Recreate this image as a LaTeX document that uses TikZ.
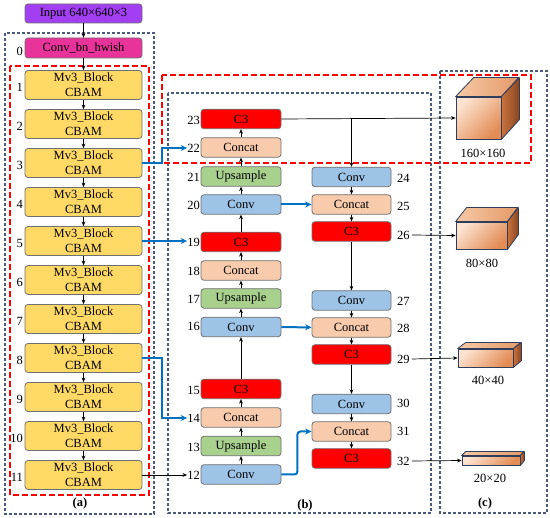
\documentclass[tikz,border=0pt]{standalone}
\usepackage{fontspec}
\setmainfont{Liberation Serif}
\usetikzlibrary{arrows.meta,calc}
\definecolor{yel}{HTML}{FFD966}
\definecolor{bord}{HTML}{6F6F6F}
\definecolor{c3red}{HTML}{FF0000}
\definecolor{catc}{HTML}{F8CBAD}
\definecolor{upc}{HTML}{A9D18E}
\definecolor{cnvc}{HTML}{9DC3E6}
\definecolor{inpc}{HTML}{A23FF2}
\definecolor{cbnc}{HTML}{E8349A}
\definecolor{bluearr}{HTML}{0070C0}
\definecolor{frameblue}{HTML}{4A5A7A}
\definecolor{cubeedge}{HTML}{2E3D5C}
\definecolor{cfl}{HTML}{FCE2CF}
\definecolor{cfd}{HTML}{E38C55}
\definecolor{ctl}{HTML}{F7C9A6}
\definecolor{ctd}{HTML}{E49A68}
\definecolor{csl}{HTML}{C9743F}
\definecolor{csd}{HTML}{8A4520}
\tikzset{
  blk/.style={draw=bord, line width=0.8pt, rounded corners=3pt, inner sep=0pt, align=center},
  mv/.style={blk, fill=yel, minimum width=117pt, minimum height=29pt},
  lc/.style={blk, minimum width=80pt, minimum height=19.5pt},
  rc/.style={blk, minimum width=79pt, minimum height=19.5pt},
  cthree/.style={fill=c3red},
  cat/.style={fill=catc},
  ups/.style={fill=upc},
  cnv/.style={fill=cnvc},
  num/.style={inner sep=0pt},
  arr/.style={-{Stealth[length=4.5pt,width=3.8pt]}, line width=0.7pt},
  barr/.style={draw=bluearr, line width=2pt, -{Stealth[length=6.5pt,width=6pt]}},
  bframe/.style={draw=frameblue, line width=1.1pt, dash pattern=on 3pt off 2pt},
  rframe/.style={draw=c3red, line width=1.4pt, dash pattern=on 6pt off 3pt},
  cubefront/.style={draw=cubeedge, line width=0.8pt, inner sep=0pt, left color=cfl, right color=cfd, shading angle=45},
  cubetop/.style={draw=cubeedge, line width=0.8pt, left color=ctl, right color=ctd},
  cubeside/.style={draw=cubeedge, line width=0.8pt, left color=csl, right color=csd},
  bold/.style={font=\fontsize{12.5}{15}\selectfont\rmfamily\bfseries},
}
\newcommand\drawcube[7]{%
  \node[cubefront, minimum width=#4pt, minimum height=#5pt] (#1) at (#2,#3) {};
  \shade[cubetop, line join=round] (#1.north west) -- ++(#6,-#7) -- ++(#4,0) -- (#1.north east) -- cycle;
  \shade[cubeside, line join=round] (#1.north east) -- ++(#6,-#7) -- ++(0,#5) -- (#1.south east) -- cycle;
}
\begin{document}
\begin{tikzpicture}[x=1pt,y=-1pt,font=\fontsize{12.5}{15}\selectfont\rmfamily]
\useasboundingbox (0,0) rectangle (550,518);
% frames
\draw[bframe] (5,33) rectangle (154,514);
\draw[rframe] (10,66) rectangle (149,495);
\draw[bframe] (168,93) rectangle (431,513);
\draw[rframe] (162,75) rectangle (531,163);
\draw[bframe] (440,71) rectangle (547,513);

% column (a)
\node[blk, fill=inpc, minimum width=117pt, minimum height=19pt] (in) at (83.5,13.5) {Input 640×640×3};
\node[blk, fill=cbnc, minimum width=117pt, minimum height=20pt] (c0) at (83.5,48) {Conv\_bn\_hwish};
\node[num, anchor=east] (a0) at (23,51) {0};
\foreach \i in {1,...,11} {
  \node[mv] (m\i) at (83.5,{85+(\i-1)*39}) {Mv3\_Block\\CBAM};
  \node[num, anchor=east] (a\i) at (23,{87+(\i-1)*39}) {\i};
}
\draw[arr] (in) -- (c0);
\draw[arr] (c0) -- (m1);
\foreach \i in {1,...,10} {
  \pgfmathtruncatemacro\j{\i+1}
  \draw[arr] (m\i) -- (m\j);
}
\node[bold] (la) at (80,503) {(a)};

% column (b) left
\node[lc, cthree] (n23) at (241,119) {C3};
\node[lc, cat] (n22) at (241,147.5) {Concat};
\node[lc, ups] (n21) at (241,176.5) {Upsample};
\node[lc, cnv] (n20) at (241,204.5) {Conv};
\node[lc, cthree] (n19) at (241,242) {C3};
\node[lc, cat] (n18) at (241,270.5) {Concat};
\node[lc, ups] (n17) at (241,298.5) {Upsample};
\node[lc, cnv] (n16) at (241,327) {Conv};
\node[lc, cthree] (n15) at (241,389) {C3};
\node[lc, cat] (n14) at (241,417.5) {Concat};
\node[lc, ups] (n13) at (241,446) {Upsample};
\node[lc, cnv] (n12) at (241,474.5) {Conv};
\foreach \k/\y in {23/120,22/148,21/177,20/205,19/242,18/271,17/299,16/326,15/390,14/418,13/447,12/475} {
  \node[num, anchor=east] (l\k) at (200,\y) {\k};
}
% column (b) right
\node[rc, cnv] (n24) at (351.5,177) {Conv};
\node[rc, cat] (n25) at (351.5,204.5) {Concat};
\node[rc, cthree] (n26) at (351.5,231.5) {C3};
\node[rc, cnv] (n27) at (351.5,300.5) {Conv};
\node[rc, cat] (n28) at (351.5,327.5) {Concat};
\node[rc, cthree] (n29) at (351.5,354.5) {C3};
\node[rc, cnv] (n30) at (351.5,404) {Conv};
\node[rc, cat] (n31) at (351.5,431.5) {Concat};
\node[rc, cthree] (n32) at (351.5,458.5) {C3};
\foreach \k/\y in {24/178,25/206,26/235,27/301,28/328,29/359,30/403,31/431,32/461} {
  \node[num, anchor=west] (l\k) at (397,\y) {\k};
}
\node[bold] (lb) at (305,505) {(b)};

% arrows in (b)
\draw[arr] (n12) -- (n13);
\draw[arr] (n13) -- (n14);
\draw[arr] (n14) -- (n15);
\draw[arr] (n15) -- (n16);
\draw[arr] (n16) -- (n17);
\draw[arr] (n17) -- (n18);
\draw[arr] (n18) -- (n19);
\draw[arr] (n19) -- (n20);
\draw[arr] (n20) -- (n21);
\draw[arr] (n21) -- (n22);
\draw[arr] (n22) -- (n23);
\draw[arr] (n23.east -| n24) -- (n24);
\draw[arr] (n24) -- (n25);
\draw[arr] (n25) -- (n26);
\draw[arr] (n26) -- (n27);
\draw[arr] (n27) -- (n28);
\draw[arr] (n28) -- (n29);
\draw[arr] (n29) -- (n30);
\draw[arr] (n30) -- (n31);
\draw[arr] (n31) -- (n32);
\draw[barr] (n20) -- (n25);
\draw[barr] (n16) -- (n28);
\draw[barr, rounded corners=3pt] (n12.east) -- ++(16,0) |- (n31.west);

% links (a) -> (b)
\draw[barr] (m3.east) -- ++(20,0) |- (l22.west);
\draw[barr] (m5.east) -- (m5.east -| l19.west);
\draw[barr] (m8.east) -- ++(20,0) |- (l14.west);
\draw[arr] (m11.east) -- (m11.east -| l12.west);

% cubes (c)
\drawcube{k1}{478.5}{118}{45}{42}{18}{19}
\drawcube{k2}{481.5}{235.5}{51}{27}{11}{14}
\drawcube{k3}{485.5}{358}{55}{18}{8}{6}
\drawcube{k4}{491}{460.5}{58}{9}{4}{4}
\node (t1) at (483,153) {160×160};
\node (t2) at (482,263) {80×80};
\node (t3) at (488,380) {40×40};
\node (t4) at (490,478) {20×20};
\node[bold] (lcc) at (485,503) {(c)};

\draw[arr] (n23.east) -- (k1.west);
\draw[arr] (l26.east) ++(2,0) -- (k2.west);
\draw[arr] (l29.east) ++(2,0) -- (k3.west);
\draw[arr] (l32.east) ++(2,0) -- (k4.west);
\end{tikzpicture}
\end{document}
